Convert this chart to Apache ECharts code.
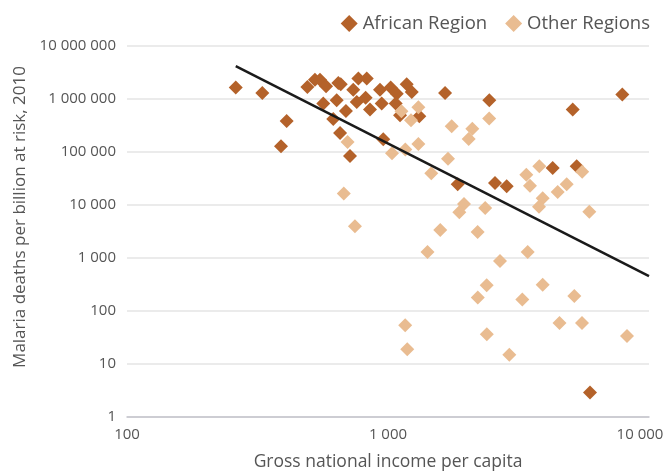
<!DOCTYPE html>
<html>
<head>
<meta charset="utf-8">
<script src="https://cdn.jsdelivr.net/npm/echarts@6/dist/echarts.min.js"></script>
<style>
html,body{margin:0;padding:0;background:#fff;}
#c{width:667px;height:474px;}
</style>
</head>
<body>
<div id="c"></div>
<script>
// Data
var africanX = [261, 330, 409, 389, 491, 525, 549, 579, 645, 659, 736, 770, 829, 759, 821, 853, 932, 1024, 946, 1080, 1070, 1179, 1233, 1112, 1318, 636, 690, 565, 617, 655, 959, 715, 1654, 2444, 5102, 7902, 1849, 2570, 2850, 4276, 5284, 5943];
var africanY = [1640000, 1300000, 385000, 128000, 1680000, 2320000, 2320000, 1740000, 2000000, 1890000, 1500000, 2430000, 2430000, 877000, 1060000, 631000, 1500000, 1640000, 819000, 1260000, 819000, 1890000, 1360000, 492000, 472000, 945000, 594000, 819000, 420000, 228000, 174000, 84000, 1300000, 945000, 631000, 1210000, 24600, 26000, 22500, 49900, 53700, 2.9];
var otherX = [1126, 1307, 1225, 700, 1036, 1165, 1307, 1465, 677, 1754, 2104, 2038, 2442, 1698, 3388, 3800, 3499, 4838, 5546, 4469, 3914, 3789, 1955, 1876, 2357, 5905, 1586, 2205, 1417, 3429, 2686, 2389, 3914, 2208, 3270, 5174, 747, 1164, 1185, 2391, 2916, 4541, 5538, 8235];
var otherY = [586000, 697000, 396000, 155000, 94500, 111000, 142000, 39600, 16400, 305000, 276000, 176000, 427000, 74400, 37100, 53700, 23000, 24600, 42300, 17600, 13400, 9250, 10400, 7280, 8770, 7450, 3370, 3100, 1300, 1300, 875, 305, 312, 179, 164, 192, 3960, 53.7, 18.9, 36.3, 15.0, 59.2, 59.2, 33.6];
var trendX = [261, 10000];
var trendY = [4190000, 457];
var seriesNames = ['African Region', 'Other Regions'];
var xAxisTitle = 'Gross national income per capita';
var yAxisTitle = 'Malaria deaths per billion at risk, 2010';

function zip(xs, ys) { return xs.map(function (x, i) { return [x, ys[i]]; }); }
function fmt(v) { return String(Math.round(v)).replace(/\B(?=(\d{3})+(?!\d))/g, ' '); }

var FONT = '"Open Sans", "Noto Sans", sans-serif';
var DARK = '#b4622a';
var LIGHT = '#e9bc91';

var chart = echarts.init(document.getElementById('c'), null, {renderer: 'canvas'});
chart.setOption({
  animation: false,
  backgroundColor: '#fff',
  grid: {left: 127, right: 18, top: 46, bottom: 57, containLabel: false, outerBoundsMode: 'none'},
  legend: {
    data: seriesNames,
    right: 12, top: 9,
    icon: 'diamond',
    itemWidth: 17, itemHeight: 17, itemGap: 18,
    textStyle: {fontFamily: FONT, fontSize: 18.5, color: '#555'}
  },
  graphic: [{
    type: 'text', x: 20, y: 217, rotation: Math.PI / 2,
    style: {text: yAxisTitle, fontFamily: FONT, fontSize: 17, fill: '#555', align: 'center', verticalAlign: 'middle'}
  }],
  xAxis: {
    type: 'log', logBase: 10, min: 100, max: 10000,
    name: xAxisTitle, nameLocation: 'middle', nameGap: 36,
    nameTextStyle: {fontFamily: FONT, fontSize: 17.5, color: '#555'},
    axisLine: {show: true, lineStyle: {color: '#c4c4cc', width: 1.5}},
    axisTick: {show: false},
    splitLine: {show: false},
    axisLabel: {
      fontFamily: FONT, fontSize: 15, color: '#555', margin: 10,
      formatter: function (v) { return v >= 10000 ? '{r|' + fmt(v) + '}' : fmt(v); },
      rich: {r: {fontFamily: FONT, fontSize: 15, color: '#555', padding: [0, 18, 0, 0]}}
    }
  },
  yAxis: {
    type: 'log', logBase: 10, min: 1, max: 10000000,
    axisLine: {show: false},
    axisTick: {show: false},
    splitLine: {show: true, lineStyle: {color: '#e4e4e4', width: 1.5}},
    axisLabel: {fontFamily: FONT, fontSize: 15, color: '#555', margin: 11, formatter: fmt}
  },
  series: [
    {
      name: seriesNames[0], type: 'scatter', symbol: 'diamond', symbolSize: 14,
      itemStyle: {color: DARK, opacity: 1}, data: zip(africanX, africanY), z: 2
    },
    {
      name: seriesNames[1], type: 'scatter', symbol: 'diamond', symbolSize: 14,
      itemStyle: {color: LIGHT, opacity: 1}, data: zip(otherX, otherY), z: 3
    },
    {
      name: 'trend', type: 'line', data: zip(trendX, trendY), showSymbol: false, symbol: 'none',
      lineStyle: {color: '#1a1a1a', width: 2.5}, z: 4, silent: true
    }
  ]
});
</script>
</body>
</html>
